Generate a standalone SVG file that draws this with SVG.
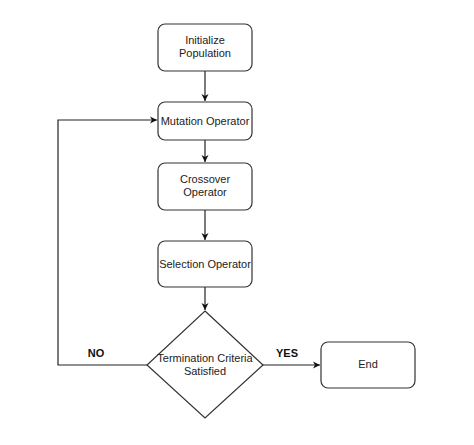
<svg xmlns="http://www.w3.org/2000/svg" width="474" height="445" viewBox="0 0 474 445">
<style>
.box{fill:#fff;stroke:#333;stroke-width:1.2}
.t{font-family:"Liberation Sans",Arial,sans-serif;font-size:11px;fill:#222;text-anchor:middle}
.lb{font-family:"Liberation Sans",Arial,sans-serif;font-size:11px;font-weight:bold;fill:#111;text-anchor:middle}
.c{fill:none;stroke:#222;stroke-width:1.2}
</style>
<defs>
<marker id="ah" markerWidth="8" markerHeight="8" refX="7" refY="4" orient="auto" markerUnits="userSpaceOnUse">
<path d="M0,0.5 L7,4 L0,7.5 L2,4 Z" fill="#111"/>
</marker>
</defs>
<rect width="474" height="445" fill="#fff"/>
<g id="connectors">
<path class="c" d="M205,71 V101" marker-end="url(#ah)"/>
<path class="c" d="M205,140 V162" marker-end="url(#ah)"/>
<path class="c" d="M205,210 V240" marker-end="url(#ah)"/>
<path class="c" d="M205,287 V310" marker-end="url(#ah)"/>
<path class="c" d="M147,365 H58 V120 H157" marker-end="url(#ah)"/>
<path class="c" d="M263,365 H320" marker-end="url(#ah)"/>
<text class="lb" x="96" y="357">NO</text>
<text class="lb" x="287" y="357">YES</text>
</g>
<g id="init">
<rect class="box" x="158" y="24" width="94" height="47" rx="7"/>
<text class="t" x="205" y="44">Initialize</text>
<text class="t" x="205" y="57">Population</text>
</g>
<g id="mutation">
<rect class="box" x="158" y="102" width="94" height="38" rx="7"/>
<text class="t" x="205" y="125">Mutation Operator</text>
</g>
<g id="crossover">
<rect class="box" x="158" y="163" width="94" height="47" rx="7"/>
<text class="t" x="205" y="183">Crossover</text>
<text class="t" x="205" y="196">Operator</text>
</g>
<g id="selection">
<rect class="box" x="158" y="241" width="94" height="46" rx="7"/>
<text class="t" x="205" y="268">Selection Operator</text>
</g>
<g id="decision">
<path class="box" d="M205,311 L263,365 L205,418 L147,365 Z"/>
<text class="t" x="205" y="362">Termination Criteria</text>
<text class="t" x="205" y="375">Satisfied</text>
</g>
<g id="end">
<rect class="box" x="321" y="342" width="94" height="46" rx="7"/>
<text class="t" x="368" y="368">End</text>
</g>
</svg>
